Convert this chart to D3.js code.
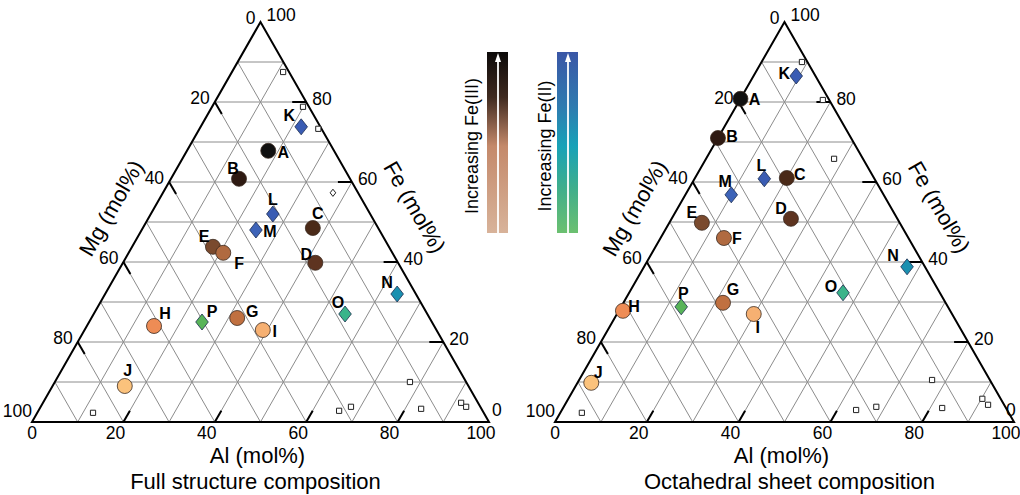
<!DOCTYPE html>
<html>
<head>
<meta charset="utf-8">
<script src="https://cdn.jsdelivr.net/npm/d3@7"></script>
<style>
  body { margin: 0; background: #fff; }
  svg text { font-family: "Liberation Sans", Arial, sans-serif; }
</style>
</head>
<body>
<div id="chart"></div>
<script>
// Ternary Mg - Al - Fe, two panels

// Sample labels
let pointLabels = ["A","B","C","D","E","F","G","H","I","J","K","L","M","N","O","P"]
let diamondLabels = ["K","L","M","N","O","P"]

// Full structure composition (mol%)
let fullMg = [14.4, 24.3, 14.3, 18.1, 38.5, 37.0, 42.1, 61.3, 38.0, 75.2, 4.2, 21.3, 27.0, 4.1, 18.0, 50.3]
let fullAl = [17.8, 14.9, 37.2, 42.1, 17.7, 20.7, 31.9, 14.7, 39.0, 15.8, 22.0, 26.7, 25.0, 63.9, 55.0, 24.7]
let fullFe = [67.8, 60.8, 48.5, 39.8, 43.8, 42.3, 26.0, 24.0, 23.0, 9.0, 73.8, 52.0, 48.0, 32.0, 27.0, 25.0]

// Octahedral sheet composition (mol%)
let octMg = [19.2, 29.0, 19.0, 23.2, 43.1, 40.2, 48.5, 71.3, 43.2, 87.2, 4.2, 24.0, 33.2, 3.9, 21.1, 58.1]
let octAl = [0.0, 0.0, 20.0, 26.0, 7.1, 13.8, 21.7, 0.9, 29.8, 3.0, 9.3, 15.2, 10.0, 57.3, 46.6, 13.1]
let octFe = [80.8, 71.0, 61.0, 50.8, 49.8, 46.0, 29.8, 27.8, 27.0, 9.8, 86.5, 60.8, 56.8, 38.8, 32.3, 28.8]

// Other samples (small open markers), Al and Fe (mol%)
let fullOtherAl = [11.2, 19.9, 26.0, 37.2, 12.2, 65.8, 67.9, 77.7, 83.5, 91.5, 93.1]
let fullOtherFe = [87.5, 78.8, 73.3, 57.3, 2.3, 2.8, 3.8, 10.0, 3.3, 4.8, 3.8]
let octOtherAl = [8.8, 18.1, 27.9, 4.7, 64.1, 68.1, 76.9, 82.6, 90.2, 92.2]
let octOtherFe = [90.0, 80.5, 65.8, 2.3, 3.0, 3.8, 10.5, 3.5, 5.8, 4.3]

// Tick values
let tickValues = [0, 20, 40, 60, 80, 100]

// Colours by Fe(III) / Fe(II) content
let pointColor = {
  A: "#101010", B: "#2e1a12", C: "#4a2a18", D: "#5e3420", E: "#7a4a2e", F: "#b06a40",
  G: "#c07040", H: "#ee8c55", I: "#f6b072", J: "#fbc27c",
  K: "#3a5cb3", L: "#3a5cb3", M: "#3d63b8", N: "#1a90b0", O: "#3ab48a", P: "#58b458"
}

// label offsets (center of letter from marker)
let labelOffsetFull = {
  A: [15, 1], B: [-6, -11], C: [5, -15], D: [-9, -9], E: [-9, -11], F: [16, 10],
  G: [15, -7], H: [11, -13], I: [12, 1], J: [3, -16], K: [-12, -12], L: [0, -15],
  M: [14, 1], N: [-10, -12], O: [-7, -12], P: [10, -11]
}
let labelOffsetOct = {
  A: [14, 0], B: [14, -2], C: [13, -4], D: [-10, -11], E: [-10, -11], F: [13, 0],
  G: [10, -14], H: [11, -5], I: [4, 13], J: [7, -11], K: [-12, -3], L: [-3, -14],
  M: [-6, -14], N: [-14, -12], O: [-12, -7], P: [2, -14]
}

let width = 1020, height = 495

let svg = d3.select("#chart").append("svg")
  .attr("width", width)
  .attr("height", height)

let drawTernary = function(cfg) {
  let sx = d3.scaleLinear().domain([0, 100]).range([cfg.x0, cfg.x0 + cfg.w])
  let sy = d3.scaleLinear().domain([0, 100]).range([cfg.y0, cfg.y0 - cfg.h])
  let px = function(al, fe) { return sx(al + fe / 2) }
  let py = function(fe) { return sy(fe) }

  let g = svg.append("g")

  // grid
  let grid = []
  d3.range(10, 100, 10).forEach(function(v) {
    grid.push([0, v, 100 - v, v])        // const Fe
    grid.push([v, 0, v, 100 - v])        // const Al
    grid.push([100 - v, 0, 0, 100 - v])  // const Mg
  })
  g.selectAll(".grid").data(grid).enter().append("line")
    .attr("x1", d => px(d[0], d[1])).attr("y1", d => py(d[1]))
    .attr("x2", d => px(d[2], d[3])).attr("y2", d => py(d[3]))
    .attr("stroke", "#8c8c8c").attr("stroke-width", 1)

  // frame
  g.append("path")
    .attr("d", "M" + px(0, 0) + "," + py(0) + "L" + px(100, 0) + "," + py(0) + "L" + px(0, 100) + "," + py(100) + "Z")
    .attr("fill", "none").attr("stroke", "#000").attr("stroke-width", 2)

  let inner = tickValues.filter(v => v > 0 && v < 100)
  let L = 14
  // Mg ticks on left edge (Al=0, Fe=100-Mg), pointing down-right
  g.selectAll(".tmg").data(inner).enter().append("line")
    .attr("x1", d => px(0, 100 - d)).attr("y1", d => py(100 - d))
    .attr("x2", d => px(0, 100 - d) + L * 0.5).attr("y2", d => py(100 - d) + L * 0.866)
    .attr("stroke", "#000").attr("stroke-width", 2)
  // Fe ticks on right edge, horizontal
  g.selectAll(".tfe").data(inner).enter().append("line")
    .attr("x1", d => px(100 - d, d)).attr("y1", d => py(d))
    .attr("x2", d => px(100 - d, d) - L).attr("y2", d => py(d))
    .attr("stroke", "#000").attr("stroke-width", 2)
  // Al ticks on bottom edge, up-right
  g.selectAll(".tal").data(inner).enter().append("line")
    .attr("x1", d => px(d, 0)).attr("y1", py(0))
    .attr("x2", d => px(d, 0) + 13 * 0.5).attr("y2", py(0) - 13 * 0.866)
    .attr("stroke", "#000").attr("stroke-width", 2)

  // tick labels
  g.selectAll(".lmg").data(tickValues).enter().append("text")
    .attr("x", d => px(0, 100 - d) + (d === 100 ? 0 : -5))
    .attr("y", d => py(100 - d) + (d === 100 ? -11 : -4))
    .attr("dy", "0.35em").attr("text-anchor", "end")
    .attr("font-size", "17.5px").text(d => d)
  g.selectAll(".lfe").data(tickValues).enter().append("text")
    .attr("x", d => px(100 - d, d) + (d === 0 ? cfg.feZeroDx : 6))
    .attr("y", d => py(d) + (d === 100 ? -7 : d === 0 ? -12 : -3))
    .attr("dy", "0.35em").attr("text-anchor", "start")
    .attr("font-size", "17.5px").text(d => d)
  g.selectAll(".lal").data(tickValues).enter().append("text")
    .attr("x", d => px(d, 0) + (d === 0 ? 0 : -8))
    .attr("y", py(0) + 17)
    .attr("text-anchor", "middle")
    .attr("font-size", "17.5px").text(d => d)

  // axis titles
  let mgMid = [px(0, 50), py(50)]
  g.append("text")
    .attr("transform", "translate(" + (mgMid[0] - 35) + "," + (mgMid[1] - 14) + ") rotate(-60)")
    .attr("text-anchor", "middle").attr("dy", "0.35em")
    .attr("font-size", "22px").text("Mg (mol%)")
  let feMid = [px(50, 50), py(50)]
  g.append("text")
    .attr("transform", "translate(" + (feMid[0] + 40) + "," + (feMid[1] - 15) + ") rotate(60)")
    .attr("text-anchor", "middle").attr("dy", "0.35em")
    .attr("font-size", "22px").text("Fe (mol%)")
  g.append("text")
    .attr("x", px(50, 0) - 3).attr("y", py(0) + 41)
    .attr("text-anchor", "middle").attr("font-size", "22px").text("Al (mol%)")
  g.append("text")
    .attr("x", px(50, 0) + cfg.subDx).attr("y", py(0) + 67)
    .attr("text-anchor", "middle").attr("font-size", "22px").text(cfg.title)

  // other samples
  let others = cfg.otherAl.map((a, i) => ({ al: a, fe: cfg.otherFe[i], dia: cfg.otherDiamond.includes(i) }))
  g.selectAll(".other").data(others).enter().append("path")
    .attr("transform", d => "translate(" + px(d.al, d.fe) + "," + py(d.fe) + ")")
    .attr("d", d => d.dia ? "M0,-3.6L2.8,0L0,3.6L-2.8,0Z" : "M-2.6,-2.6H2.6V2.6H-2.6Z")
    .attr("fill", "#fff").attr("stroke", "#222").attr("stroke-width", 1)

  // main samples
  let pts = pointLabels.map((lab, i) => ({ lab: lab, mg: cfg.mg[i], al: cfg.al[i], fe: cfg.fe[i] }))
  pts.forEach(function(d) {
    let s = d.mg + d.al + d.fe
    d.x = px(d.al * 100 / s, d.fe * 100 / s)
    d.y = py(d.fe * 100 / s)
  })
  let circ = pts.filter(d => !diamondLabels.includes(d.lab))
  let dia = pts.filter(d => diamondLabels.includes(d.lab))
  g.selectAll(".pc").data(circ).enter().append("circle")
    .attr("cx", d => d.x).attr("cy", d => d.y).attr("r", 7.5)
    .attr("fill", d => pointColor[d.lab]).attr("stroke", "#3a2a20").attr("stroke-width", 0.8)
  g.selectAll(".pd").data(dia).enter().append("path")
    .attr("transform", d => "translate(" + d.x + "," + d.y + ")")
    .attr("d", "M0,-8L6.3,0L0,8L-6.3,0Z")
    .attr("fill", d => pointColor[d.lab]).attr("stroke", "#1d2d50").attr("stroke-width", 0.8)
  g.selectAll(".pl").data(pts).enter().append("text")
    .attr("x", d => d.x + cfg.offsets[d.lab][0])
    .attr("y", d => d.y + cfg.offsets[d.lab][1])
    .attr("dy", "0.36em").attr("text-anchor", "middle")
    .attr("font-size", "16px").attr("font-weight", "bold")
    .text(d => d.lab)
}

drawTernary({ x0: 32, y0: 422, w: 457, h: 400, mg: fullMg, al: fullAl, fe: fullFe,
  otherAl: fullOtherAl, otherFe: fullOtherFe, otherDiamond: [3],
  offsets: labelOffsetFull, title: "Full structure composition", subDx: -5, feZeroDx: 3 })
drawTernary({ x0: 555, y0: 422, w: 459, h: 400, mg: octMg, al: octAl, fe: octFe,
  otherAl: octOtherAl, otherFe: octOtherFe, otherDiamond: [],
  offsets: labelOffsetOct, title: "Octahedral sheet composition", subDx: 5, feZeroDx: -8 })

// colour legends
let defs = svg.append("defs")
let legends = [
  { id: "g3", x: 487, text: "Increasing Fe(III)", tx: 472,
    stops: [[0, "#0c0a09"], [0.25, "#3f2a20"], [0.52, "#c4896a"], [1, "#d8b39a"]] },
  { id: "g2", x: 557, text: "Increasing Fe(II)", tx: 545,
    stops: [[0, "#3a56a6"], [0.3, "#2f7bb0"], [0.52, "#17a2b8"], [0.75, "#3fae8c"], [1, "#6cc070"]] }
]
legends.forEach(function(lg) {
  let grad = defs.append("linearGradient").attr("id", lg.id)
    .attr("x1", 0).attr("y1", 0).attr("x2", 0).attr("y2", 1)
  lg.stops.forEach(s => grad.append("stop").attr("offset", s[0]).attr("stop-color", s[1]))
  svg.append("rect").attr("x", lg.x).attr("y", 52).attr("width", 21).attr("height", 181)
    .attr("fill", "url(#" + lg.id + ")")
  let ax = lg.x + 11
  svg.append("line").attr("x1", ax).attr("y1", 233).attr("x2", ax).attr("y2", 60)
    .attr("stroke", "#fff").attr("stroke-width", 1.8)
  svg.append("path").attr("d", "M" + ax + ",53L" + (ax - 3) + ",62L" + (ax + 3) + ",62Z").attr("fill", "#fff")
  svg.append("text")
    .attr("transform", "translate(" + lg.tx + ",146) rotate(-90)")
    .attr("text-anchor", "middle").attr("dy", "0.35em")
    .attr("font-size", "18px").text(lg.text)
})
</script>
</body>
</html>
